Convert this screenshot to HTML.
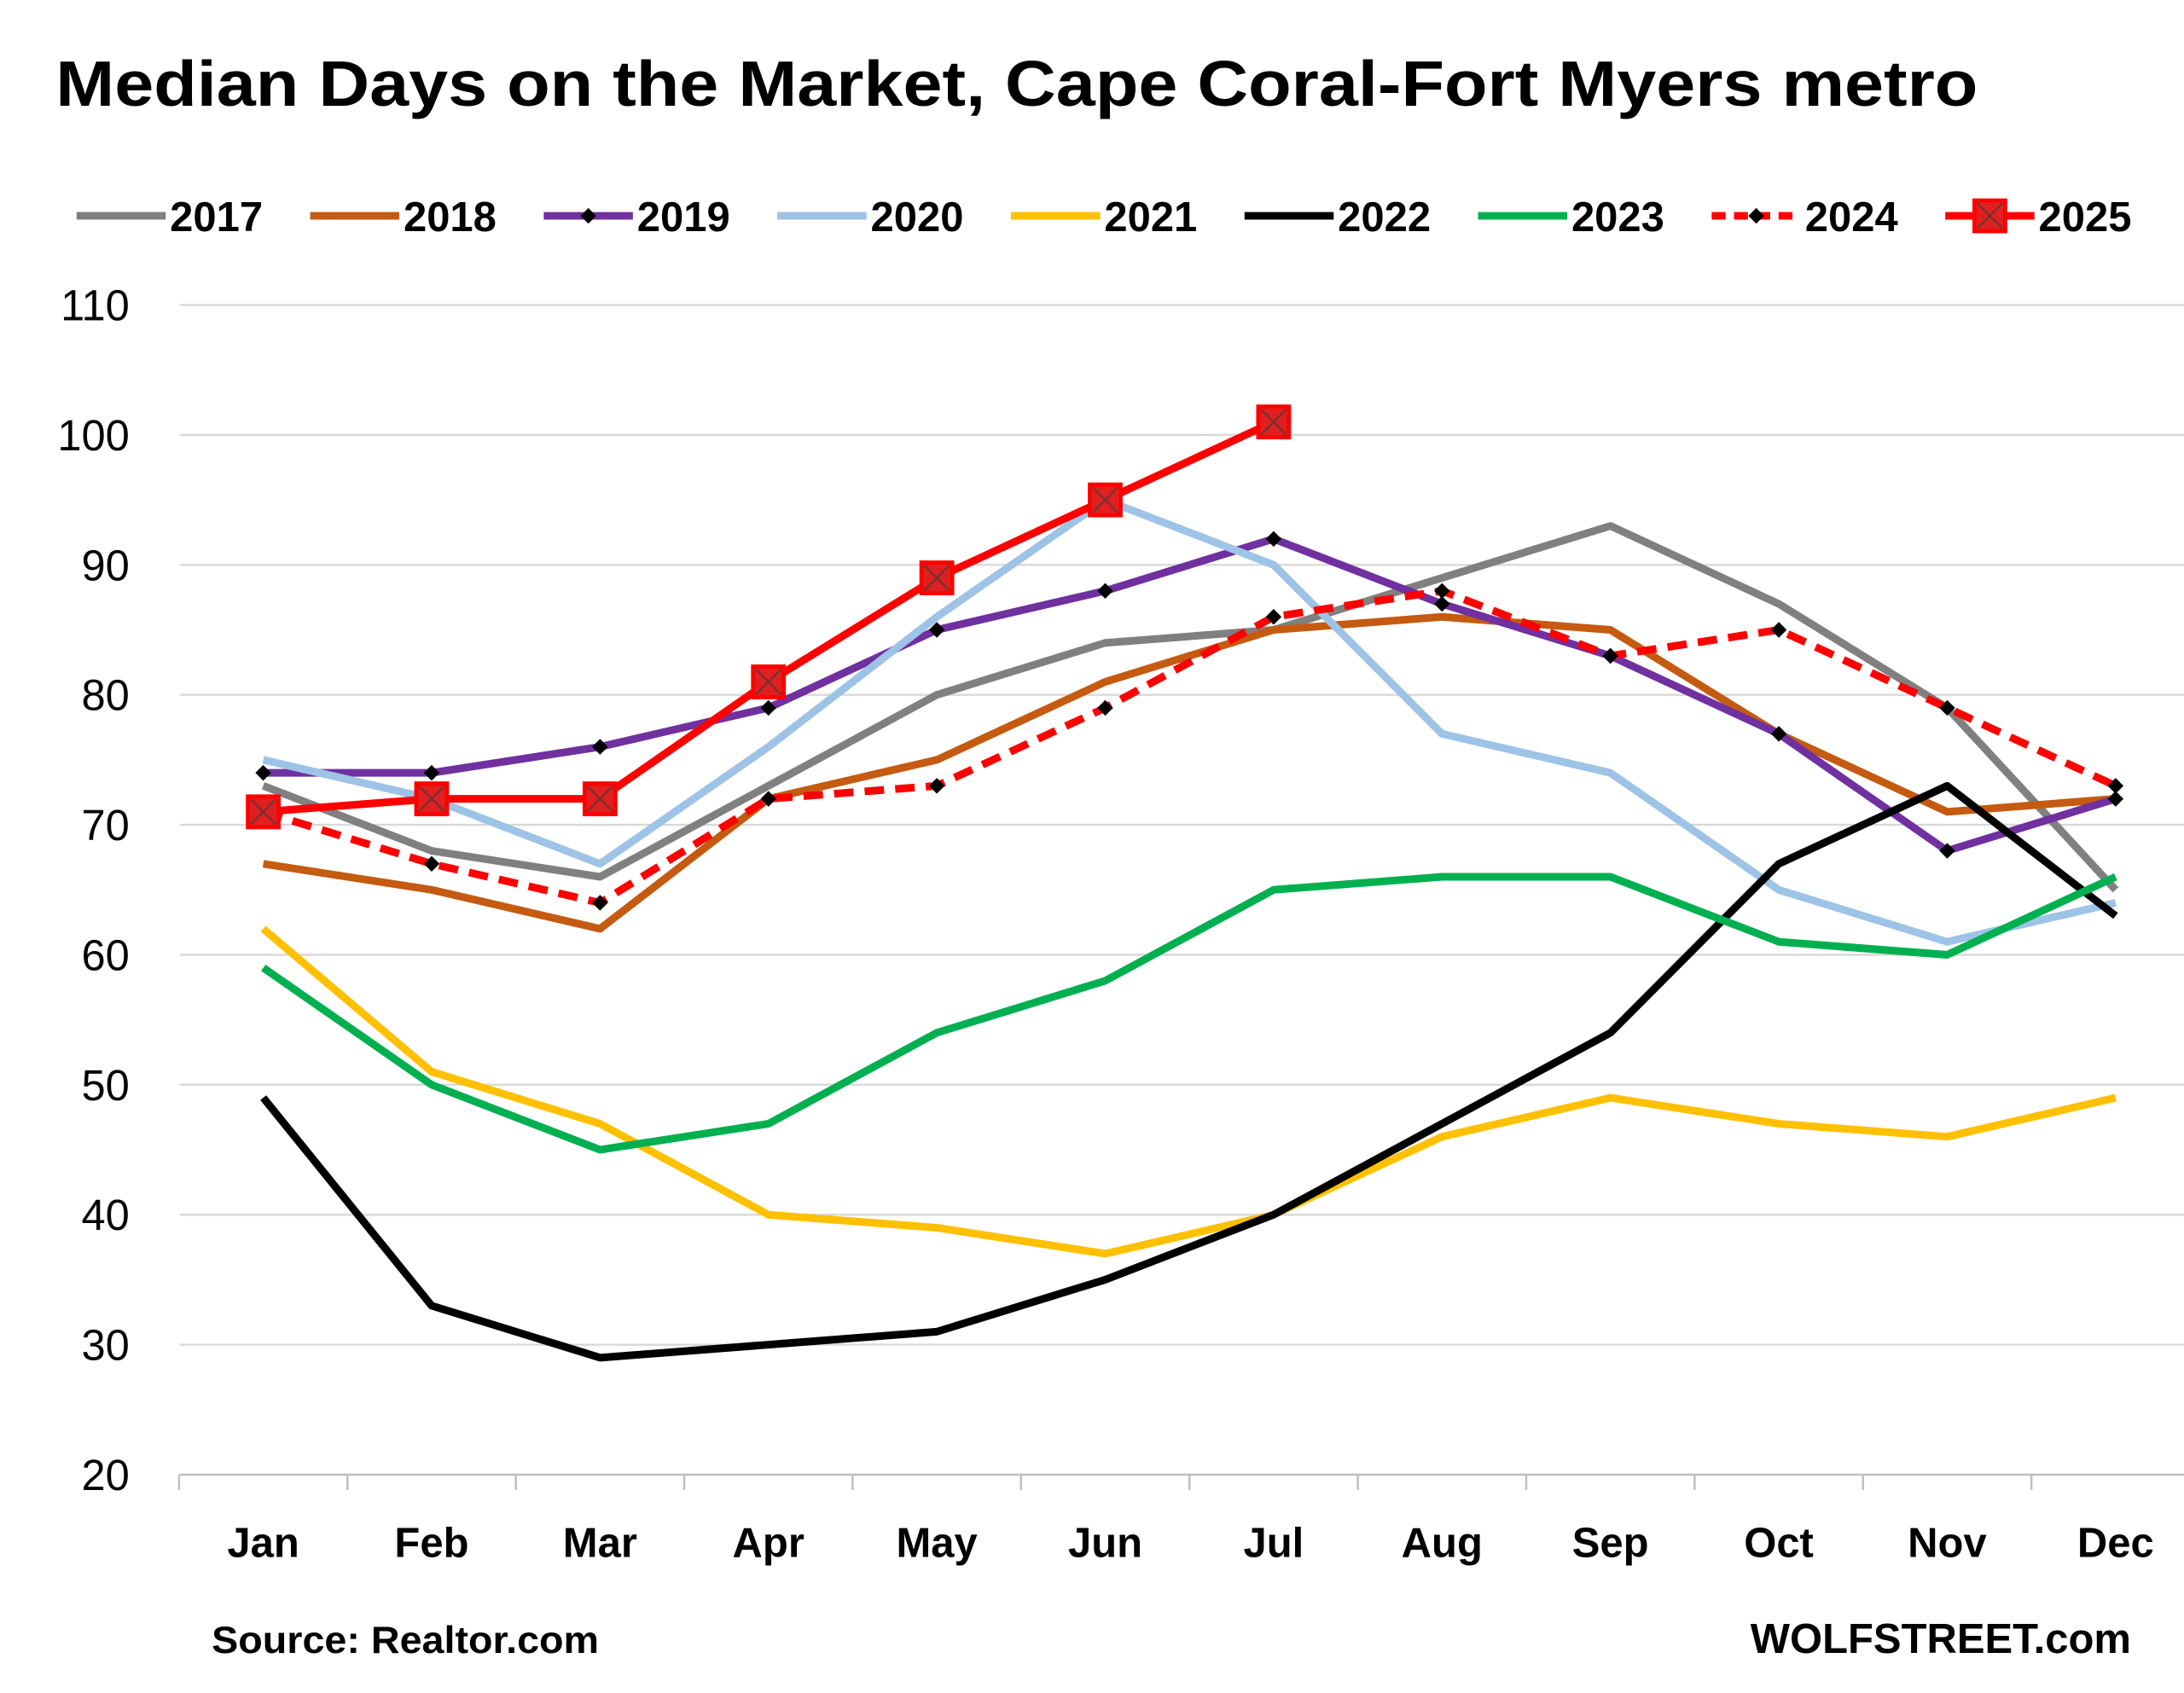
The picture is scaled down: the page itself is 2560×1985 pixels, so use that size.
<!DOCTYPE html>
<html><head><meta charset="utf-8"><style>
html,body{margin:0;padding:0;background:#fff;}
svg{display:block;font-family:"Liberation Sans",sans-serif;}
</style></head><body>
<svg id="chart" width="2560" height="1985" viewBox="0 0 1568 1215.8" xmlns="http://www.w3.org/2000/svg">
<rect width="1568" height="1216" fill="#fff"/>
<text x="40" y="76" font-size="46" font-weight="bold" fill="#000" textLength="1380" lengthAdjust="spacingAndGlyphs">Median Days on the Market, Cape Coral-Fort Myers metro</text>
<g id="grid"></g><g id="axes"></g><g id="series"></g><g id="legend"></g>
<text x="152" y="1187" font-size="27" font-weight="bold" textLength="278" lengthAdjust="spacingAndGlyphs">Source: Realtor.com</text>
<text x="1530" y="1187" font-size="30" font-weight="bold" text-anchor="end">WOLFSTREET.com</text>
</svg>
<script>
const months=["Jan","Feb","Mar","Apr","May","Jun","Jul","Aug","Sep","Oct","Nov","Dec"];
const yTicks=[20,30,40,50,60,70,80,90,100,110];
const years=["2017","2018","2019","2020","2021","2022","2023","2024","2025"];
const s2017=[73,68,66,73,80,84,85,89,93,87,79,65];
const s2018=[67,65,62,72,75,81,85,86,85,77,71,72];
const s2019=[74,74,76,79,85,88,92,87,83,77,68,72];
const s2020=[75,72,67,76,86,95,90,77,74,65,61,64];
const s2021=[62,51,47,40,39,37,40,46,49,47,46,49];
const s2022=[49,33,29,30,31,35,40,47,54,67,73,63];
const s2023=[59,50,45,47,54,58,65,66,66,61,60,66];
const s2024=[71,67,64,72,73,79,86,88,83,85,79,73];
const s2025=[71,72,72,81,89,95,101];
const NS="http://www.w3.org/2000/svg";
const X0=129,X1=1568;
function xs(i){return 189+i*120.9;}
function ys(v){return 1059-(v-20)*(1059-219)/90;}
function mk(tag,attrs,parent){const e=document.createElementNS(NS,tag);for(const k in attrs)e.setAttribute(k,attrs[k]);parent.appendChild(e);return e;}
const grid=document.getElementById('grid'),axes=document.getElementById('axes'),ser=document.getElementById('series'),leg=document.getElementById('legend');
yTicks.forEach(v=>{
 const l=mk('line',{x1:X0,x2:X1,y1:ys(v),y2:ys(v),stroke:v===20?'#bfbfbf':'#d9d9d9','stroke-width':1.5},grid);
 
 
 const t=mk('text',{x:93,y:ys(v)+11,'font-size':31,'text-anchor':'end',fill:'#000'},axes);
 t.textContent=v;
 
 
});
for(let i=0;i<=12;i++){
 const x=xs(i)-60.45;
 const l=mk('line',{x1:x,x2:x,y1:1059,y2:1070,stroke:'#bfbfbf','stroke-width':1.5},axes);
 
 
}
months.forEach((m,i)=>{
 const t=mk('text',{x:xs(i),y:1118,'font-size':30,'font-weight':'bold','text-anchor':'middle'},axes);
 t.textContent=m;
 
 
});
const styles=[
 {d:s2017,c:'#808080'},{d:s2018,c:'#c55a11'},{d:s2019,c:'#7030a0',dot:true},{d:s2020,c:'#9dc3e6'},
 {d:s2021,c:'#ffc000'},{d:s2022,c:'#000000'},{d:s2023,c:'#00b050'},{d:s2024,c:'#ff0000',dash:true,dot:true},{d:s2025,c:'#ff0000',sq:true}];
styles.forEach((s,k)=>{
 const g=mk('g',{},ser);
 
 
 const pts=s.d.map((v,i)=>xs(i)+','+ys(v)).join(' ');
 const pl=mk('polyline',{points:pts,fill:'none',stroke:s.c,'stroke-width':5.5,'stroke-linejoin':'round','stroke-dasharray':s.dash?'14 8':'none'},g);
 
 
 s.d.forEach((v,i)=>{
  if(s.dot){const d=mk('rect',{x:xs(i)-4,y:ys(v)-4,width:8,height:8,fill:'#000',transform:`rotate(45 ${xs(i)} ${ys(v)})`},g);
   
   }
  if(s.sq){const r=mk('rect',{x:xs(i)-11,y:ys(v)-11,width:22,height:22,fill:'#e02020',stroke:'#ff0000','stroke-width':3},g);
   
   
   mk('path',{d:`M${xs(i)-9},${ys(v)-9}L${xs(i)+9},${ys(v)+9}M${xs(i)+9},${ys(v)-9}L${xs(i)-9},${ys(v)+9}`,stroke:'#7a3030','stroke-width':1.5},g);}
 });
});
styles.forEach((s,k)=>{
 const lx=55+k*167.7;
 const g=mk('g',{},leg);
 
 
 mk('line',{x1:lx,x2:lx+64,y1:155,y2:155,stroke:s.c,'stroke-width':5.5,'stroke-dasharray':s.dash?'10 6':'none'},g);
 if(s.dot)mk('rect',{x:lx+28,y:151,width:8,height:8,fill:'#000',transform:`rotate(45 ${lx+32} 155)`},g);
 if(s.sq){mk('rect',{x:lx+21,y:144,width:22,height:22,fill:'#e02020',stroke:'#ff0000','stroke-width':3},g);
  mk('path',{d:`M${lx+23},146L${lx+41},164M${lx+41},146L${lx+23},164`,stroke:'#7a3030','stroke-width':1.5},g);}
 const t=mk('text',{x:lx+67,y:166,'font-size':30,'font-weight':'bold'},g);
 t.textContent=years[k];
});
</script>
</body></html>
